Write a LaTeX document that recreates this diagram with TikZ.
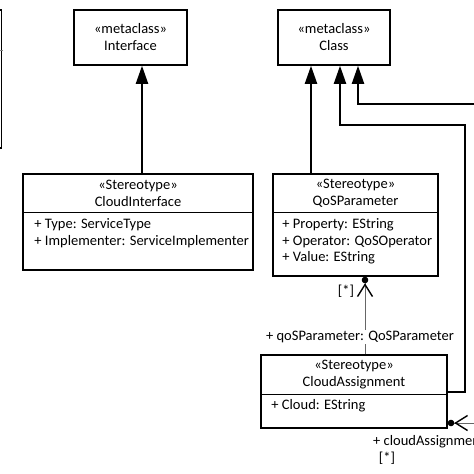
\documentclass[tikz,border=0pt]{standalone}
\usepackage{fontspec}
\setmainfont{Carlito}
\usetikzlibrary{arrows.meta,positioning,calc}

\begin{document}
\begin{tikzpicture}[x=1pt,y=-1pt,
   every node/.style={font=\fontsize{14.5}{17}\selectfont},
   box/.style={draw,line width=1.5pt,inner sep=0pt},
   head/.style={inner sep=0pt,align=center,anchor=north},
   attrs/.style={inner sep=0pt,align=left,anchor=north west,
     font=\fontsize{14.5}{16.5}\selectfont},
   gen/.style={line width=2pt,-{Triangle[length=18pt,width=12pt]}},
   assoc/.style={draw=black!60,line width=0.9pt,
     -{Straight Barb[length=12pt,width=15pt,line width=1.4pt,color=black]Circle[length=6.5pt,color=black]}}]
  \useasboundingbox (0,0) rectangle (474,474);
  \clip (0,0) rectangle (474,474);

  % cut-off class on the left
  \draw[box] (-60,10) rectangle (1.5,148);
  \draw[black!50] (-60,50) -- (3,50);

  % metaclasses
  \node[box,minimum width=113pt,minimum height=55pt,align=center] (iface) at (130.5,37.5) {«metaclass»\\Interface};
  \node[box,minimum width=112pt,minimum height=55pt,align=center] (cls) at (334,37.5) {«metaclass»\\Class};

  % stereotypes
  \node[box,minimum width=230pt,minimum height=96pt] (cif) at (138,222) {};
  \node[head,minimum height=39pt] (cifh) at (cif.north) {«Stereotype»\\CloudInterface};
  \draw[line width=1.2pt] (cifh.south -| cif.west) -- (cifh.south -| cif.east);
  \node[attrs] at ($(cifh.south -| cif.west)+(12,6)$) {+ Type: ServiceType\\+ Implementer: ServiceImplementer};

  \node[box,minimum width=165pt,minimum height=102pt] (qos) at (355.5,225) {};
  \node[head,minimum height=39pt] (qosh) at (qos.north) {«Stereotype»\\QoSParameter};
  \draw[line width=1.2pt] (qosh.south -| qos.west) -- (qosh.south -| qos.east);
  \node[attrs] at ($(qosh.south -| qos.west)+(10,6)$) {+ Property: EString\\+ Operator: QoSOperator\\+ Value: EString};

  \node[box,minimum width=186pt,minimum height=73pt] (cas) at (354,391.5) {};
  \node[head,minimum height=40pt] (cash) at (cas.north) {«Stereotype»\\CloudAssignment};
  \draw[line width=1.2pt] (cash.south -| cas.west) -- (cash.south -| cas.east);
  \node[attrs] at ($(cash.south -| cas.west)+(11,5)$) {+ Cloud: EString};

  % extensions
  \draw[gen] ([xshift=4pt]cif.north) -- ([xshift=4pt]cif.north |- iface.south);
  \draw[gen] ([xshift=-23pt]cls.south |- qos.north) -- ([xshift=-23pt]cls.south);
  \draw[gen] (cas.east) -- ++(17,0) |- ($(cls.south)+(6,59)$) -- ([xshift=6pt]cls.south);
  \coordinate (offcls) at (490,104);
  \draw[gen] (offcls) -| ([xshift=24pt]cls.south);

  % associations
  \draw[assoc] ([xshift=11pt]cas.north) -- ([xshift=11pt]cas.north |- qos.south);
  \coordinate (offcas) at (500,423);
  \draw[assoc] (offcas) -- (cas.east |- offcas);

  \node (qmult) at (346,291) {[*]};
  \node[fill=white,inner sep=1pt] (qrole) at (360,337) {+ qoSParameter: QoSParameter};
  \node[anchor=west,inner sep=0pt] (crole) at (373,442) {+ cloudAssignment: CloudAssignment};
  \node (cmult) at (387,458) {[*]};
\end{tikzpicture}
\end{document}
